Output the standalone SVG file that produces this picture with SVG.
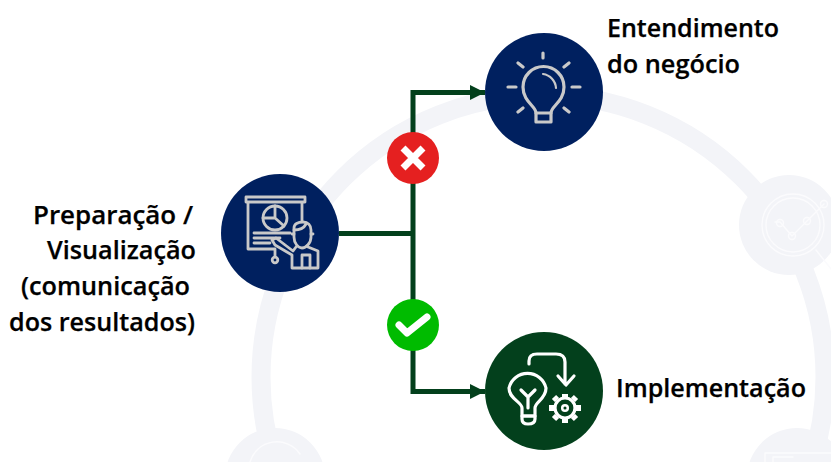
<svg xmlns="http://www.w3.org/2000/svg" width="831" height="462" viewBox="0 0 831 462">
<style>
.t{font-family:"Open Sans","Liberation Sans",sans-serif;font-weight:600;font-size:24.500px;fill:#000;stroke:#000;stroke-width:.25}
.ln{fill:none;stroke:#c9c9c9;stroke-width:2.8;stroke-linecap:round;stroke-linejoin:round}
.lg{fill:none;stroke:#fff;stroke-width:3.2;stroke-linecap:round;stroke-linejoin:round}
.bgl{fill:none;stroke:#fbfbfd;stroke-width:1.4;stroke-linecap:round;stroke-linejoin:round}
.conn{fill:none;stroke:#03401c;stroke-width:5}
</style>
<defs>
<marker id="a" markerUnits="userSpaceOnUse" markerWidth="16" markerHeight="16" refX="15" refY="8" orient="auto"><path d="M0 0.500L15 8L0 15.500z" fill="#03401c"/></marker>
</defs>
<g id="background">
<circle cx="543" cy="377" r="282" fill="none" stroke="#f3f4f8" stroke-width="19"/>
<circle cx="789" cy="225" r="50" fill="#f3f4f8"/>
<circle cx="275" cy="478" r="50" fill="#f3f4f8"/>
<circle cx="797" cy="478" r="50" fill="#f3f4f8"/>
<circle cx="793" cy="225" r="27" class="bgl"/><circle cx="793" cy="225" r="31" class="bgl"/>
<path class="bgl" d="M775 222h5l12 14 15-15 17-17M816 250l15 19"/>
<circle cx="780" cy="223" r="3.500" fill="#f3f4f8" class="bgl"/><circle cx="792" cy="236" r="3.500" fill="#f3f4f8" class="bgl"/><circle cx="807" cy="221" r="3.500" fill="#f3f4f8" class="bgl"/><circle cx="824" cy="204" r="3.500" fill="#f3f4f8" class="bgl"/>
<path class="bgl" d="M250 462a28 28 0 0 1 50 -8"/>
<path class="bgl" d="M765 462v-9h66M773 462v-5h20"/>
</g>
<g id="connectors">
<path class="conn" d="M339 233.500H413"/>
<path class="conn" d="M413 90V394"/>
<path class="conn" d="M411 92.500H485" marker-end="url(#a)"/>
<path class="conn" d="M411 391.500H485" marker-end="url(#a)"/>
</g>
<g id="node-preparacao">
<circle cx="280" cy="233" r="59" fill="#00205f"/>
<g class="ln">
<path d="M246 197H305V202H246zM248 202V249H274M302 202V221M275 249V257"/>
<circle cx="275" cy="260" r="2.800"/>
<circle cx="275" cy="218" r="12"/><path d="M275 206V218L284 226M275 218H263"/>
<path d="M254 233H290M254 238H280M254 243H270"/>
<path d="M272 240L276 238L293 251M272 240L275 245L292 255V268H318V251L308 247M296 247L293 251"/>
<path d="M302 255V268M310 255V268M302 255H310"/>
<path d="M294 232V228C294 224 298 222 303 222C308 222 311 225 311 230V237C311 243 306 248 302 248C298 248 294 243 294 237Z"/>
<path d="M292 234h2M311 234h2M294 230C300 230 304 228 306 224"/>
</g>
</g>
<g id="node-entendimento">
<circle cx="544" cy="92" r="59" fill="#00205f"/>
<g class="ln" style="stroke-width:3.200">
<path d="M543 53V58M518 63L523 67M569 63L564 67M508 87H516M572 87H580M518 112L523 108M569 112L564 108"/>
<path d="M536 122V113C536 106 523 102 523 87A20.500 20.500 0 0 1 564 87C564 102 551 106 551 113V122Z"/>
<path d="M536 113H551"/>
<path d="M543 74A15 15 0 0 1 556 88" style="stroke-width:2.200"/>
</g>
</g>
<g id="node-implementacao">
<circle cx="544" cy="391" r="59" fill="#03401c"/>
<g class="lg">
<path d="M529 364V361Q529 354 537 354H556Q565 354 565 362V384M558 376L566 385L574 376"/>
<path d="M522 416V408C522 402 509 399 509 388A19 19 0 0 1 546 388C546 399 535 402 535 408V416Z"/>
<path d="M522 416V419Q522 424 528 424 535 424 535 419V416M522 416H535M528 408V397M521 390L528 397 535 390"/>
<circle cx="565" cy="408" r="10"/><circle cx="565" cy="408" r="2.800" style="stroke-width:2.500"/>
<path d="M565 394V398M565 418V423M549 408H555M575 408H581M554 397L557 400M576 397L573 400M554 419L557 416M576 419L573 416" style="stroke-width:6;stroke-linecap:butt"/>
</g>
</g>
<g id="badge-no">
<circle cx="413" cy="158" r="26" fill="#e52020"/>
<path d="M403 148L423 168M423 148L403 168" stroke="#fff" stroke-width="7" fill="none"/>
</g>
<g id="badge-yes">
<circle cx="413" cy="325" r="26" fill="#00bb00"/>
<path d="M399 325L407 333L427 317" stroke="#fff" stroke-width="7" stroke-linecap="round" stroke-linejoin="round" fill="none"/>
</g>
<g id="labels">
<text class="t" x="607" y="37" textLength="172" lengthAdjust="spacingAndGlyphs">Entendimento</text>
<text class="t" x="607" y="73" textLength="133" lengthAdjust="spacingAndGlyphs">do negócio</text>
<text class="t" x="616" y="397" textLength="190" lengthAdjust="spacingAndGlyphs">Implementação</text>
<text class="t" x="33" y="224" textLength="160" lengthAdjust="spacingAndGlyphs">Preparação /</text>
<text class="t" x="47" y="259" textLength="149" lengthAdjust="spacingAndGlyphs">Visualização</text>
<text class="t" x="21" y="295" textLength="169" lengthAdjust="spacingAndGlyphs">(comunicação</text>
<text class="t" x="9" y="331" textLength="186" lengthAdjust="spacingAndGlyphs">dos resultados)</text>
</g>
</svg>
